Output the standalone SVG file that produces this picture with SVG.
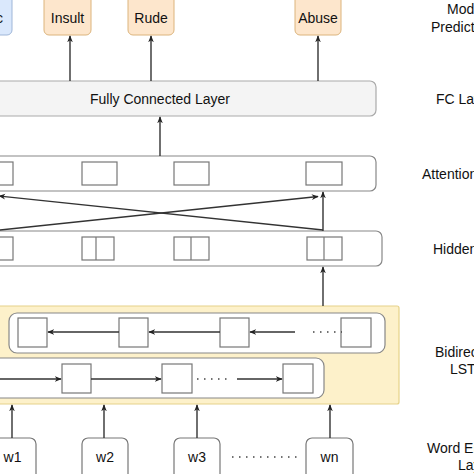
<svg xmlns="http://www.w3.org/2000/svg" width="474" height="474" viewBox="0 0 474 474">
<defs>
<marker id="ah" viewBox="0 0 10 10" refX="9" refY="5" markerWidth="7" markerHeight="7" markerUnits="userSpaceOnUse" orient="auto">
<path d="M0,1 L10,5 L0,9 L3,5 Z" fill="#222"/>
</marker>
<style>
text{font-family:"Liberation Sans",Arial,sans-serif;font-size:14px;fill:#111}
.c{text-anchor:middle}
.out{fill:#fde6cc;stroke:#dcb47c;stroke-width:1}
.blue{fill:#dae8fc;stroke:#9fb6d8;stroke-width:1}
.layer{fill:#fff;stroke:#888;stroke-width:1.2}
.fc{fill:#f4f4f4;stroke:#aaa;stroke-width:1.2}
.yel{fill:#fdf1ca;stroke:#e6d289;stroke-width:1.2}
.cell{fill:#fff;stroke:#777;stroke-width:1.2}
.word{fill:#fff;stroke:#777;stroke-width:1.2}
.arr{stroke:#333;stroke-width:1.4;fill:none;marker-end:url(#ah)}
.dots{stroke:#444;stroke-width:1.5;fill:none;stroke-dasharray:1.5 5.5}
</style>
</defs>
<rect width="474" height="474" fill="#fff"/>

<g id="layers">
<rect id="yellow" class="yel" x="-20" y="306" width="419" height="98" rx="2"/>
<rect class="fc" x="-20" y="81" width="396" height="35" rx="6"/>
<rect class="layer" x="-20" y="156" width="396" height="35" rx="6"/>
<rect class="layer" x="-20" y="231" width="402" height="35" rx="6"/>
<rect class="layer" x="9" y="313" width="376" height="40" rx="8"/>
<rect class="layer" x="-20" y="358" width="344" height="40" rx="8"/>
</g>

<g id="outputs">
<g id="out-toxic"><rect class="blue" x="-35" y="-6" width="47" height="41" rx="5"/><text class="c" x="-13" y="23">Toxic</text></g>
<g id="out-insult"><rect class="out" x="44" y="-6" width="47" height="41" rx="5"/><text class="c" x="67.5" y="23">Insult</text></g>
<g id="out-rude"><rect class="out" x="128" y="-6" width="46" height="41" rx="5"/><text class="c" x="151" y="23">Rude</text></g>
<g id="out-abuse"><rect class="out" x="295" y="-6" width="46" height="41" rx="5"/><text class="c" x="318" y="23">Abuse</text></g>
</g>

<g id="fc-label"><text class="c" x="160" y="104">Fully Connected Layer</text></g>

<g id="attention-cells">
<rect class="cell" x="-22" y="162" width="35" height="23"/>
<rect class="cell" x="82" y="162" width="35" height="23"/>
<rect class="cell" x="174" y="162" width="35" height="23"/>
<rect class="cell" x="306" y="162" width="36" height="23"/>
</g>

<g id="hidden-cells">
<rect class="cell" x="-22" y="237" width="35" height="23"/>
<rect class="cell" x="82" y="237" width="32" height="23"/><line class="cell" x1="96" y1="237" x2="96" y2="260"/>
<rect class="cell" x="174" y="237" width="35" height="23"/><line class="cell" x1="191" y1="237" x2="191" y2="260"/>
<rect class="cell" x="307" y="237" width="35" height="23"/><line class="cell" x1="324" y1="237" x2="324" y2="260"/>
</g>

<g id="lstm-backward">
<rect class="cell" x="18" y="318" width="29" height="29"/>
<rect class="cell" x="119" y="318" width="29" height="29"/>
<rect class="cell" x="220" y="318" width="29" height="29"/>
<rect class="cell" x="341" y="318" width="30" height="29"/>
</g>

<g id="lstm-forward">
<rect class="cell" x="62" y="364" width="29" height="29"/>
<rect class="cell" x="162" y="364" width="30" height="29"/>
<rect class="cell" x="283" y="364" width="30" height="29"/>
</g>

<g id="words">
<g id="w1"><rect class="word" x="-11" y="438" width="47" height="50" rx="6"/><text class="c" x="12.5" y="462">w1</text></g>
<g id="w2"><rect class="word" x="82" y="438" width="46" height="50" rx="6"/><text class="c" x="105" y="462">w2</text></g>
<g id="w3"><rect class="word" x="174" y="438" width="46" height="50" rx="6"/><text class="c" x="197" y="462">w3</text></g>
<g id="wn"><rect class="word" x="306" y="438" width="47" height="50" rx="6"/><text class="c" x="329.5" y="462">wn</text></g>
</g>

<g id="connectors">
<line class="arr" x1="70" y1="81" x2="70" y2="36"/>
<line class="arr" x1="151" y1="81" x2="151" y2="36"/>
<line class="arr" x1="318" y1="81" x2="318" y2="36"/>
<line class="arr" x1="160" y1="156" x2="160" y2="117"/>
<line class="arr" x1="323" y1="231" x2="323" y2="192"/>
<line class="arr" x1="323" y1="230" x2="-1" y2="196"/>
<line class="arr" x1="-10" y1="231" x2="318" y2="196.5"/>
<line class="arr" x1="323" y1="306" x2="323" y2="267"/>
<line class="arr" x1="119" y1="332" x2="48" y2="332"/>
<line class="arr" x1="220" y1="332" x2="149" y2="332"/>
<line class="arr" x1="295" y1="332" x2="250" y2="332"/>
<line class="arr" x1="-20" y1="379" x2="61" y2="379"/>
<line class="arr" x1="91" y1="379" x2="161" y2="379"/>
<line class="arr" x1="237" y1="379" x2="282" y2="379"/>
<line class="arr" x1="12" y1="438" x2="12" y2="405"/>
<line class="arr" x1="104" y1="438" x2="104" y2="405"/>
<line class="arr" x1="197" y1="438" x2="197" y2="405"/>
<line class="arr" x1="330" y1="438" x2="330" y2="405"/>
<line class="dots" x1="313" y1="332" x2="342" y2="332"/>
<line class="dots" x1="197" y1="379" x2="232" y2="379"/>
<line class="dots" x1="232" y1="457" x2="298" y2="457"/>
</g>

<g id="side-labels">
<text x="447" y="14">Model</text>
<text x="431" y="32">Prediction</text>
<text x="436" y="104">FC Layer</text>
<text x="422" y="179">Attention Layer</text>
<text x="433" y="254">Hidden Layer</text>
<text x="435" y="357">Bidirectional</text>
<text x="450" y="374">LSTM</text>
<text x="427" y="453">Word Embedding</text>
<text x="458" y="470">Layer</text>
</g>
</svg>
